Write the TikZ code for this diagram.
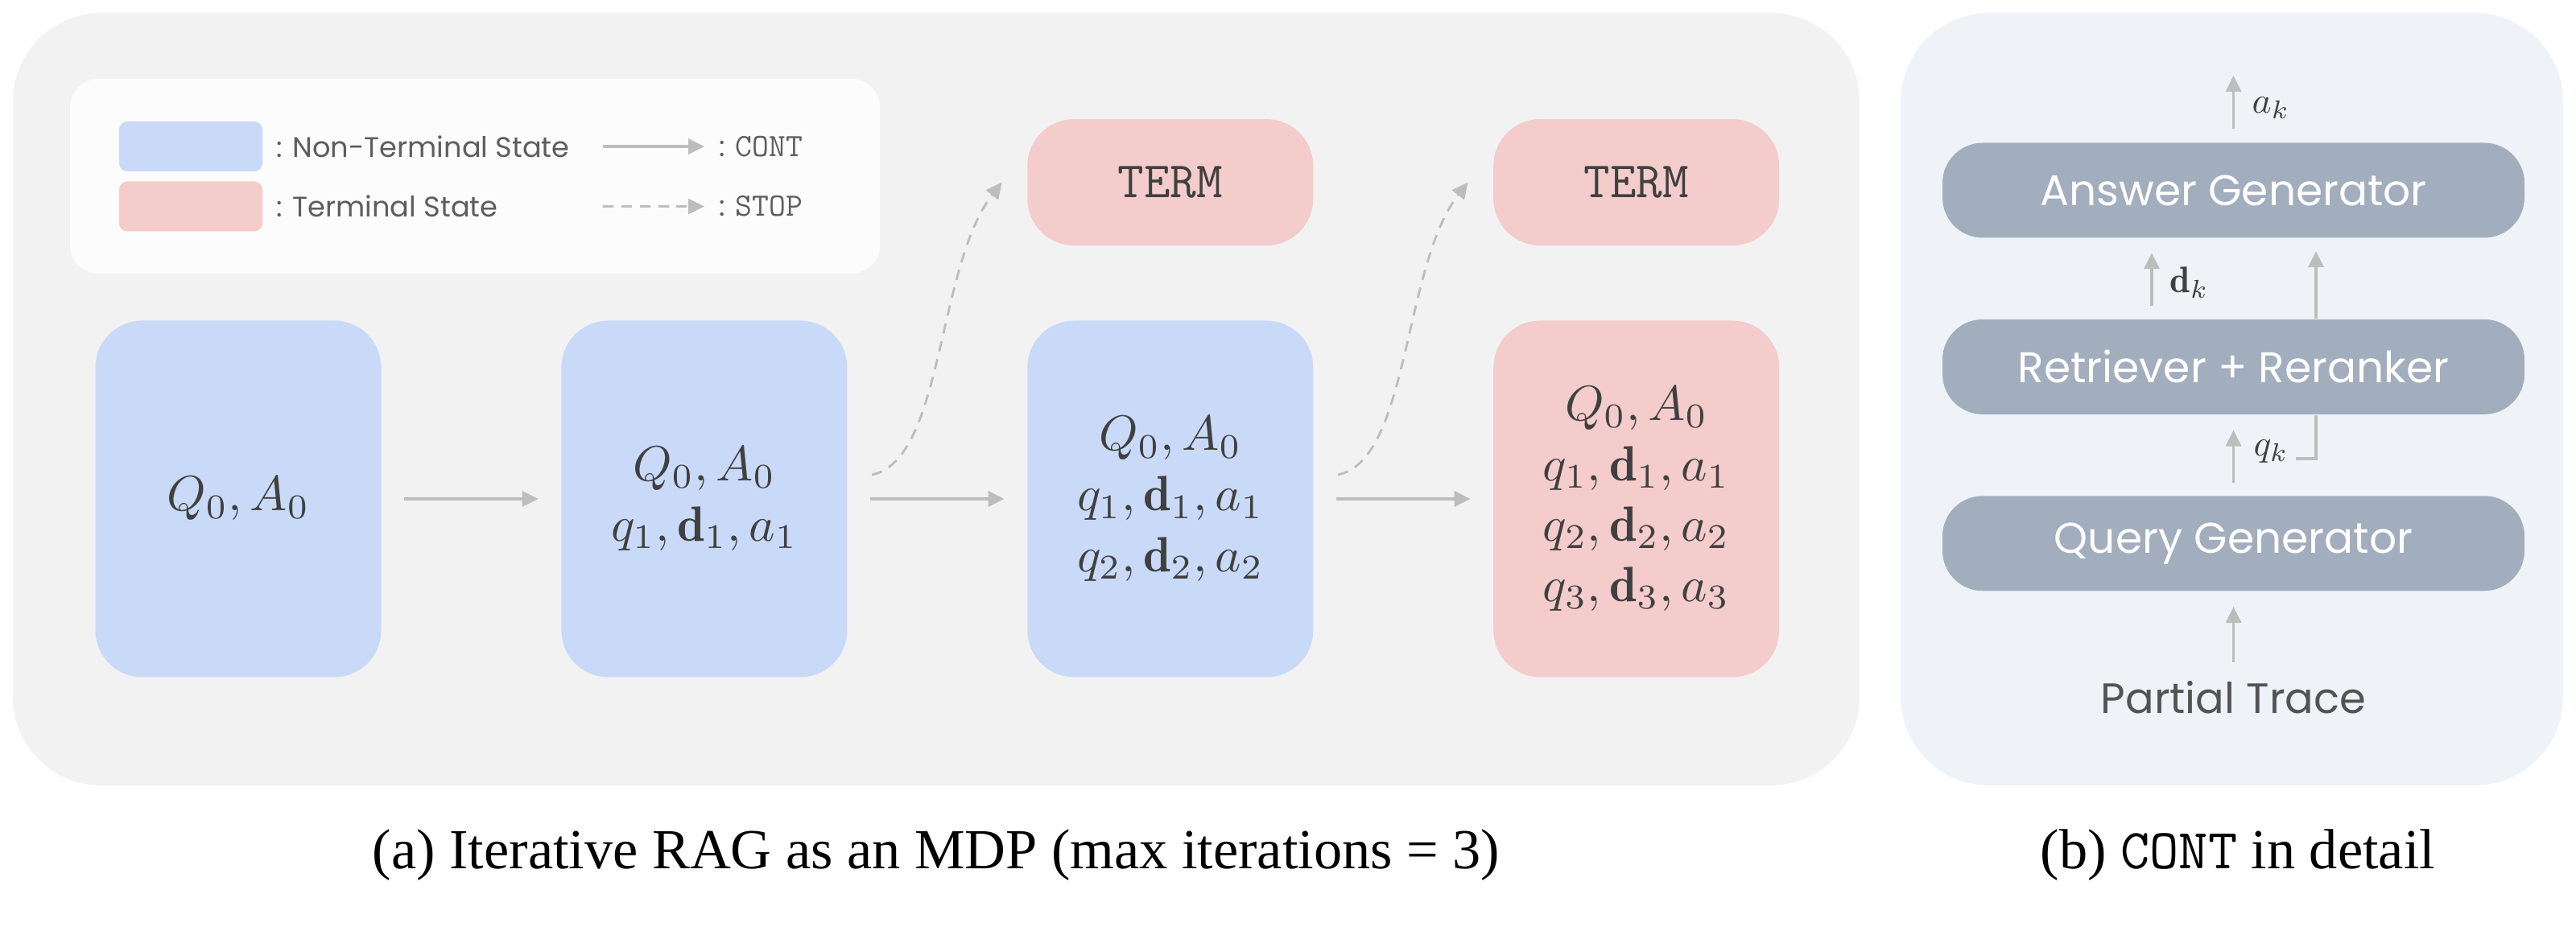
\documentclass[tikz,border=0pt]{standalone}
\usepackage{fix-cm}
\usepackage{amsmath,amssymb}
\usepackage{graphicx}
\usepackage{fontspec}
\newfontfamily\modfont{Poppins}
\newfontfamily\capfont{Liberation Serif}
\usetikzlibrary{arrows.meta,calc,positioning}
\definecolor{panelgray}{HTML}{F2F2F2}
\definecolor{panelblue}{HTML}{EFF3F7}
\definecolor{legendbg}{HTML}{FCFCFC}
\definecolor{stateblue}{HTML}{C9DAF8}
\definecolor{statepink}{HTML}{F4CCCC}
\definecolor{modgray}{HTML}{A2ADBE}
\definecolor{arrowgray}{HTML}{BDBDBD}
\definecolor{textgray}{HTML}{404040}

% state contents: set small, then scaled up
\newcommand{\statetext}[1]{\scalebox{1.75}{\fontsize{10}{12.2}\selectfont\begin{tabular}{@{}c@{}}#1\end{tabular}}}
\newcommand{\arrowlab}[1]{\scalebox{1.3}{\fontsize{10}{12}\selectfont #1}}

\tikzset{
  state/.style={rounded corners=0.58cm, minimum width=3.55cm, minimum height=4.43cm,
    align=center, text=textgray},
  nonterm/.style={state, fill=stateblue},
  term/.style={state, fill=statepink},
  termbox/.style={term, minimum height=1.57cm, font=\fontsize{18}{21.5}\selectfont\ttfamily},
  module/.style={fill=modgray, rounded corners=0.5cm, minimum width=7.23cm,
    minimum height=1.18cm, text=white, font=\modfont\fontsize{15.2}{18}\selectfont},
  swatch/.style={rounded corners=0.1cm, minimum width=1.78cm, minimum height=0.62cm},
  legtext/.style={anchor=west, inner sep=0pt, text=textgray!85, font=\modfont\fontsize{10}{12}\selectfont},
  lab/.style={anchor=west, inner sep=0pt, text=textgray},
  cont/.style={->, arrowgray, line width=1pt},
  stop/.style={->, arrowgray, line width=0.8pt, dash pattern=on 3.7pt off 2.8pt},
  flow/.style={cont, shorten <=0.16cm, shorten >=0.18cm}
}

\begin{document}
\begin{tikzpicture}[>={Triangle[length=0.2cm,width=0.19cm]}]
  \useasboundingbox (0,0) rectangle (32,11.52);
  % panels
  \fill[panelgray, rounded corners=1.1cm] (0.16,1.76) rectangle (23.10,11.36);
  \fill[panelblue, rounded corners=1.1cm] (23.61,1.76) rectangle (31.84,11.36);

  % legend
  \node[fill=legendbg, rounded corners=0.35cm, minimum width=10.06cm, minimum height=2.42cm] (legend) at (5.90,9.33) {};
  \node[swatch, fill=stateblue] (swnt) at (2.37,9.70) {};
  \node[swatch, fill=statepink] (swt) at (2.37,8.955) {};
  \node[legtext] (lnt) at (3.43,9.70) {: Non-Terminal State};
  \node[legtext] (lt) at (3.43,8.955) {: Terminal State};
  \coordinate (lcs) at (7.49,9.70);
  \coordinate (lss) at (7.49,8.955);
  \node[legtext] (lcont) at (8.93,9.70) {: {\ttfamily\fontsize{11.5}{13}\selectfont CONT}};
  \node[legtext] (lstop) at (8.93,8.955) {: {\ttfamily\fontsize{11.5}{13}\selectfont STOP}};
  \draw[cont, shorten >=0.18cm] (lcs) -- (lcont.west);
  \draw[stop, shorten >=0.18cm] (lss) -- (lstop.west);

  % states
  \node[nonterm] (s0) at (2.96,5.32) {\statetext{$Q_0, A_0$}};
  \node[nonterm, right=2.225cm of s0] (s1) {\statetext{$Q_0, A_0$\\$q_1, \mathbf{d}_1, a_1$}};
  \node[nonterm, right=2.225cm of s1] (s2) {\statetext{$Q_0, A_0$\\$q_1, \mathbf{d}_1, a_1$\\$q_2, \mathbf{d}_2, a_2$}};
  \node[term, right=2.225cm of s2] (s3) {\statetext{$Q_0, A_0$\\$q_1, \mathbf{d}_1, a_1$\\$q_2, \mathbf{d}_2, a_2$\\$q_3, \mathbf{d}_3, a_3$}};
  \node[termbox, above=0.92cm of s2] (t2) {TERM};
  \node[termbox, above=0.92cm of s3] (t3) {TERM};

  \foreach \a/\b in {s0/s1, s1/s2, s2/s3}
    \draw[cont, shorten <=0.28cm, shorten >=0.28cm] (\a) -- (\b);
  \draw[stop] ([shift={(0.3,0.3)}]s1.east) .. controls +(0.89,0.18) and +(-0.81,-1.04) .. ([xshift=-0.31cm]t2.west);
  \draw[stop] ([shift={(0.3,0.3)}]s2.east) .. controls +(0.89,0.18) and +(-0.81,-1.04) .. ([xshift=-0.31cm]t3.west);

  % CONT in detail
  \node[module] (ans) at (27.745,9.155) {Answer Generator};
  \node[module, below=1.0cm of ans] (ret) {Retriever + Reranker};
  \node[module, below=1.0cm of ret] (qry) {Query Generator};
  \node[text=textgray!90, font=\modfont\fontsize{15}{18}\selectfont] (trace) at (27.745,2.85) {Partial Trace};
  \coordinate (akend) at (27.745,10.58);
  \coordinate (qkend) at (28.52,5.82);

  \draw[flow, shorten <=0.11cm, shorten >=0.19cm] (trace) -- (qry);
  \draw[flow, shorten >=0.19cm] (qry) -- (ret);
  \draw[flow] ([xshift=-1.015cm]ret.north) -- ([xshift=-1.015cm]ans.south);
  \draw[cont, shorten <=0.165cm] (ans) -- (akend);
  \draw[arrowgray, line width=1pt] (qkend) -| ([xshift=1.025cm]ret.south);
  \draw[cont, shorten >=0.16cm] ([xshift=1.025cm]ret.north) -- ([xshift=1.025cm]ans.south);
  \node[lab] (ak) at (27.97,10.18) {\arrowlab{$a_k$}};
  \node[lab] (dk) at (26.95,8.01) {\arrowlab{$\mathbf{d}_k$}};
  \node[lab] (qk) at (27.99,5.91) {\arrowlab{$q_k$}};

  % captions
  \node[font=\capfont\fontsize{20}{24}\selectfont] (capa) at (11.63,0.89) {(a) Iterative RAG as an MDP (max iterations = 3)};
  \node[font=\capfont\fontsize{20}{24}\selectfont] (capb) at (27.80,0.89) {(b) {\ttfamily CONT} in detail};
\end{tikzpicture}
\end{document}
